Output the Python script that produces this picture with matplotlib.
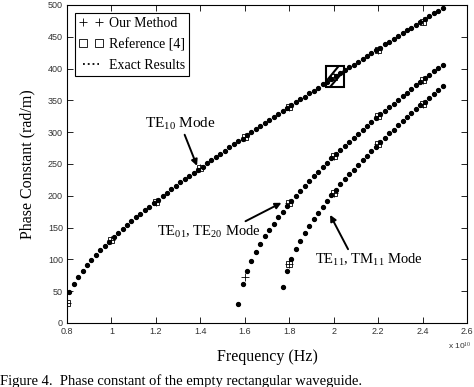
import matplotlib
matplotlib.use("Agg")
import matplotlib.pyplot as plt
from matplotlib.lines import Line2D
from matplotlib.patches import Rectangle

# exact results (frequency in units of 1e10 Hz, phase constant in rad/m)
freq_te10 = [0.81, 0.83, 0.85, 0.87, 0.89, 0.91, 0.93, 0.95, 0.97, 0.99,
             1.01, 1.03, 1.05, 1.07, 1.09, 1.11, 1.13, 1.15, 1.17, 1.19,
             1.21, 1.23, 1.25, 1.27, 1.29, 1.31, 1.33, 1.35, 1.37, 1.39,
             1.41, 1.43, 1.45, 1.47, 1.49, 1.51, 1.53, 1.55, 1.57, 1.59,
             1.61, 1.63, 1.65, 1.67, 1.69, 1.71, 1.73, 1.75, 1.77, 1.79,
             1.81, 1.83, 1.85, 1.87, 1.89, 1.91, 1.93, 1.95, 1.97, 1.99,
             2.01, 2.03, 2.05, 2.07, 2.09, 2.11, 2.13, 2.15, 2.17, 2.19,
             2.21, 2.23, 2.25, 2.27, 2.29, 2.31, 2.33, 2.35, 2.37, 2.39,
             2.41, 2.43, 2.45, 2.47, 2.49]
beta_te10 = [48, 61, 72, 82, 91, 99, 107, 114, 121, 128,
             135, 141, 148, 154, 160, 166, 172, 177, 183, 189,
             194, 200, 205, 210, 216, 221, 226, 231, 236, 241,
             246, 251, 256, 261, 266, 271, 276, 281, 286, 290,
             295, 300, 305, 310, 314, 319, 324, 328, 333, 338,
             342, 347, 352, 356, 361, 365, 370, 375, 379, 384,
             388, 393, 397, 402, 406, 411, 415, 420, 424, 429,
             433, 438, 442, 447, 451, 456, 460, 464, 469, 473,
             478, 482, 487, 491, 496]

freq_te01 = [1.57, 1.59, 1.61, 1.63, 1.65, 1.67, 1.69, 1.71, 1.73, 1.75,
             1.77, 1.79, 1.81, 1.83, 1.85, 1.87, 1.89, 1.91, 1.93, 1.95,
             1.97, 1.99, 2.01, 2.03, 2.05, 2.07, 2.09, 2.11, 2.13, 2.15,
             2.17, 2.19, 2.21, 2.23, 2.25, 2.27, 2.29, 2.31, 2.33, 2.35,
             2.37, 2.39, 2.41, 2.43, 2.45, 2.47, 2.49]
beta_te01 = [30, 61, 82, 98, 112, 124, 136, 146, 156, 166,
             175, 184, 192, 200, 208, 216, 223, 231, 238, 245,
             252, 259, 265, 272, 278, 285, 291, 297, 304, 310,
             316, 322, 328, 334, 339, 345, 351, 357, 362, 368,
             374, 379, 385, 390, 396, 401, 406]

freq_te11 = [1.77, 1.79, 1.81, 1.83, 1.85, 1.87, 1.89, 1.91, 1.93, 1.95,
             1.97, 1.99, 2.01, 2.03, 2.05, 2.07, 2.09, 2.11, 2.13, 2.15,
             2.17, 2.19, 2.21, 2.23, 2.25, 2.27, 2.29, 2.31, 2.33, 2.35,
             2.37, 2.39, 2.41, 2.43, 2.45, 2.47, 2.49]
beta_te11 = [57, 81, 101, 116, 129, 141, 153, 163, 173, 183,
             192, 201, 209, 218, 226, 234, 241, 249, 256, 263,
             270, 277, 284, 291, 298, 304, 311, 317, 324, 330,
             336, 342, 348, 354, 360, 366, 372]

# our method (+)
ours_f_te10 = [0.8, 1.0, 1.2, 1.4, 1.6, 1.8, 2.0, 2.2, 2.4]
ours_b_te10 = [32, 130, 190, 244, 293, 340, 387, 430, 475]
ours_f_te01 = [1.6, 1.8, 2.0, 2.2, 2.4]
ours_b_te01 = [73, 188, 263, 325, 382]
ours_f_te11 = [1.8, 2.0, 2.2, 2.4]
ours_b_te11 = [93, 205, 281, 345]

# reference [4] (squares)
ref_f_te10 = [0.8, 1.0, 1.2, 1.4, 1.6, 1.8, 2.0, 2.2, 2.4]
ref_b_te10 = [32, 130, 190, 243, 292, 340, 386, 430, 474]
ref_f_te01 = [1.8, 2.0, 2.2, 2.4]
ref_b_te01 = [188, 263, 325, 382]
ref_f_te11 = [1.8, 2.0, 2.2, 2.4]
ref_b_te11 = [92, 204, 281, 345]

xticks = [0.8, 1, 1.2, 1.4, 1.6, 1.8, 2, 2.2, 2.4, 2.6]
yticks = [0, 50, 100, 150, 200, 250, 300, 350, 400, 450, 500]

serif = "Liberation Serif"
sans = "Liberation Sans"
plt.rcParams["mathtext.fontset"] = "custom"
plt.rcParams["mathtext.rm"] = serif
plt.rcParams["mathtext.default"] = "rm"

fig = plt.figure(figsize=(4.74, 3.87), dpi=100)
ax = fig.add_axes([0.1414, 0.1654, 0.8438, 0.8217])

for f, b in [(freq_te10, beta_te10), (freq_te01, beta_te01), (freq_te11, beta_te11)]:
    ax.plot(f, b, linestyle="none", marker="o", markersize=2.8, color="black")
for f, b in [(ours_f_te10, ours_b_te10), (ours_f_te01, ours_b_te01), (ours_f_te11, ours_b_te11)]:
    ax.plot(f, b, linestyle="none", marker="+", markersize=5.5, markeredgewidth=0.6, color="black")
for f, b in [(ref_f_te10, ref_b_te10), (ref_f_te01, ref_b_te01), (ref_f_te11, ref_b_te11)]:
    ax.plot(f, b, linestyle="none", marker="s", markersize=4.4, markeredgewidth=0.6,
            markerfacecolor="none", color="black")

# highlighted box around the TE10 point at 2 x 10^10 Hz, with two slanted strokes
bx, by, bw, bh = 1.964, 370.5, 0.083, 34
box = Rectangle((bx, by), bw, bh, fill=False, linewidth=1.5, edgecolor="black")
ax.add_patch(box)
for (fx0, fy0), (fx1, fy1) in [((0.0, 0.25), (0.72, 1.0)), ((0.22, 0.0), (1.0, 0.78))]:
    ax.plot([bx + fx0 * bw, bx + fx1 * bw], [by + fy0 * bh, by + fy1 * bh],
            color="black", linewidth=1.5, solid_capstyle="butt")

ax.set_xlim(0.8, 2.6)
ax.set_ylim(0, 500)
ax.set_xticks(xticks)
ax.set_xticklabels(["%g" % t for t in xticks])
ax.set_yticks(yticks)
ax.tick_params(direction="in", top=True, right=True, length=4, width=0.6,
               labelsize=6.5, labelcolor="#333333", pad=3)
for lab in ax.get_xticklabels() + ax.get_yticklabels():
    lab.set_family(sans)
for sp in ax.spines.values():
    sp.set_linewidth(0.8)

ax.set_xlabel("Frequency (Hz)", family=serif, fontsize=11.5, labelpad=9)
ax.set_ylabel("Phase Constant (rad/m)", family=serif, fontsize=11.5, labelpad=9)
ax.text(0.983, -0.072, r"x 10$^{10}$", transform=ax.transAxes, ha="center", va="center",
        fontsize=6, family=sans, color="#333333")

arrow = dict(arrowstyle="-|>", color="black", lw=1.4, mutation_scale=9, shrinkA=0, shrinkB=0)
ax.annotate(r"TE$_{10}$ Mode", xy=(1.385, 247), xytext=(1.31, 313), ha="center", va="center",
            family=serif, fontsize=11, arrowprops=arrow)
ax.annotate(r"TE$_{01}$, TE$_{20}$ Mode", xy=(1.765, 189), xytext=(1.205, 143), ha="left",
            va="center", family=serif, fontsize=10.5, arrowprops=dict(arrow, relpos=(0.74, 0.8)))
ax.annotate(r"TE$_{11}$, TM$_{11}$ Mode", xy=(1.984, 170), xytext=(1.916, 99), ha="left",
            va="center", family=serif, fontsize=10.5, arrowprops=dict(arrow, relpos=(0.32, 1.0)))

handles = [
    Line2D([], [], linestyle="none", marker="+", markersize=5.5, markeredgewidth=0.6, color="black"),
    Line2D([], [], linestyle="none", marker="s", markersize=6, markeredgewidth=0.6,
           markerfacecolor="none", color="black"),
    Line2D([], [], linestyle=":", linewidth=1.3, color="black"),
]
leg = ax.legend(handles, ["Our Method", "Reference [4]", "Exact Results"], loc="upper left",
                bbox_to_anchor=(0.02, 0.975), borderaxespad=0, numpoints=2, handlelength=1.75,
                handletextpad=0.4, borderpad=0.3, labelspacing=0.55, fancybox=False,
                framealpha=1, edgecolor="black", prop={"family": serif, "size": 10})
leg.get_frame().set_linewidth(0.8)

fig.text(0.0, 1 - 374 / 387, "Figure 4.  Phase constant of the empty rectangular waveguide.",
         family=serif, fontsize=10.5, ha="left", va="top")

fig.savefig("out.png", dpi=100)
